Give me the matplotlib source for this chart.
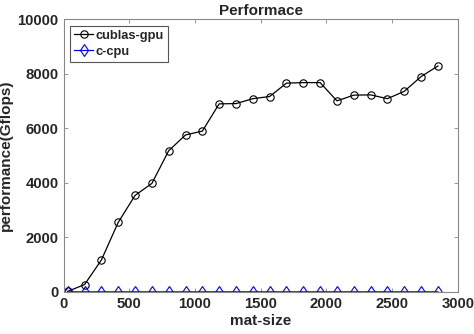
import matplotlib.pyplot as plt

plt.rcParams['font.family'] = ['Liberation Sans', 'DejaVu Sans']
plt.rcParams['font.weight'] = 'bold'
plt.rcParams['text.color'] = '#262626'
plt.rcParams['axes.labelcolor'] = '#262626'
plt.rcParams['xtick.labelcolor'] = '#262626'
plt.rcParams['ytick.labelcolor'] = '#262626'

mat_size = [32, 160, 288, 416, 544, 672, 800, 928, 1056, 1184, 1312, 1440,
            1568, 1696, 1824, 1952, 2080, 2208, 2336, 2464, 2592, 2720, 2848]
gpu_gflops = [20, 270, 1170, 2550, 3540, 3980, 5180, 5760, 5900, 6900, 6910, 7090,
              7170, 7660, 7680, 7680, 7010, 7220, 7230, 7090, 7360, 7900, 8290]
cpu_gflops = [2, 3, 3, 3, 3, 3, 3, 3, 3, 3, 3, 3,
              3, 3, 3, 3, 3, 3, 3, 3, 3, 3, 3]

fig = plt.figure(figsize=(4.74, 3.34), dpi=100)
ax = fig.add_axes([0.134, 0.126, 0.832, 0.816])

ax.plot(mat_size, gpu_gflops, color='black', lw=0.9, marker='o', ms=5.3,
        mfc='none', mew=0.8, label='cublas-gpu')
ax.plot(mat_size, cpu_gflops, color='blue', lw=0.9, marker='d', ms=6.3,
        mfc='none', mew=0.8, label='c-cpu')

ax.set_xlim(0, 3000)
ax.set_ylim(0, 10000)
ax.set_xticks(range(0, 3001, 500))
ax.set_yticks(range(0, 10001, 2000))
ax.tick_params(direction='in', top=True, right=True, labelsize=10.7,
               color='#888888', length=3, width=0.6)
for s in ax.spines.values():
    s.set_color('#888888')
    s.set_linewidth(0.8)

ax.set_title('Performace', fontsize=11, fontweight='bold', pad=3)
ax.set_xlabel('mat-size', fontsize=11, fontweight='bold', labelpad=2)
ax.set_ylabel('performance(Gflops)', fontsize=11, fontweight='bold', labelpad=3)

leg = ax.legend(loc='upper left', fontsize=9.3, fancybox=False, framealpha=1,
                edgecolor='#555555', borderaxespad=0.5, handlelength=1.5,
                handletextpad=0.2, borderpad=0.3, labelspacing=0.3)
leg.get_frame().set_linewidth(0.8)

fig.savefig('out.png', dpi=100)
